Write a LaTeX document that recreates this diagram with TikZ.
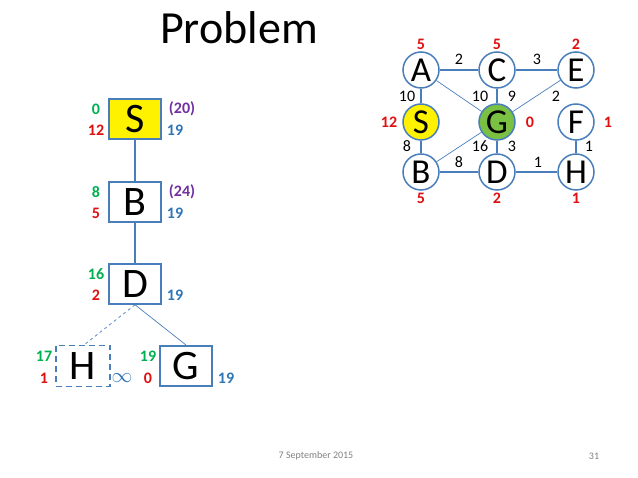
\documentclass[tikz,border=0pt]{standalone}
\usepackage{fontspec}
\setmainfont{Carlito}
\definecolor{ln}{HTML}{4A7EBB}
\definecolor{cg}{HTML}{00B050}
\definecolor{cr}{HTML}{E01010}
\definecolor{cb}{HTML}{2E75B6}
\definecolor{cp}{HTML}{7030A0}
\definecolor{gf}{HTML}{7AC043}
\begin{document}
\begin{tikzpicture}[x=1pt,y=-1pt,
  tbox/.style={draw=ln,line width=1.5pt,minimum width=52pt,minimum height=40pt,font=\fontsize{42}{42}\selectfont},
  gn/.style={circle,draw=ln,line width=1.5pt,minimum size=36pt,inner sep=0pt,font=\fontsize{35}{35}\selectfont},
  ed/.style={draw=ln,line width=1.5pt},
  thin/.style={draw=ln,line width=0.7pt},
  gl/.style={font=\bfseries\fontsize{16}{16}\selectfont,text=cg},
  rl/.style={font=\bfseries\fontsize{16}{16}\selectfont,text=cr},
  bl/.style={font=\bfseries\fontsize{16}{16}\selectfont,text=cb},
  pl/.style={font=\bfseries\fontsize{16}{16}\selectfont,text=cp},
  el/.style={font=\fontsize{16}{16}\selectfont}]
\useasboundingbox (0,0) rectangle (638,478);
\node (title) at (239,28) {\fontsize{46}{46}\selectfont Problem};
\node[text=gray] (date) at (316,456) {\fontsize{10}{10}\selectfont 7 September 2015};
\node[text=gray] (pg) at (594,456) {\fontsize{10}{10}\selectfont 31};
% tree
\node[tbox,fill=yellow] (tS) at (135,119) {S};
\node[tbox] (tB) at (135,202) {B};
\node[tbox] (tD) at (135,284) {D};
\node[tbox,dash pattern=on 6pt off 4pt,minimum width=54pt,minimum height=41pt] (tH) at (83,366) {H};
\node[tbox] (tG) at (186,366) {G};
\draw[ed] (tS) -- (tB); \draw[ed] (tB) -- (tD);
\draw[thin,dashed] (tD.south) -- (84,345);
\draw[thin] (tD.south) -- (186,345);
\node[gl] (a1) at (96,109) {0}; \node[rl] (a2) at (96,130) {12};
\node[pl] (a3) at (182,109) {(20)}; \node[bl] (a4) at (175,130) {19};
\node[gl] (b1) at (96,192) {8}; \node[rl] (b2) at (96,213) {5};
\node[pl] (b3) at (182,192) {(24)}; \node[bl] (b4) at (175,213) {19};
\node[gl] (d1) at (96,274) {16}; \node[rl] (d2) at (96,295) {2};
\node[bl] (d4) at (175,295) {19};
\node[gl] (h1) at (44,356) {17}; \node[rl] (h2) at (44,378) {1};
\node[bl,font=\fontsize{20}{20}\selectfont] (h4) at (122,378) {$\infty$};
\node[gl] (g1) at (148,356) {19}; \node[rl] (g2) at (148,378) {0};
\node[bl] (g4) at (226,378) {19};
% graph
\node[gn] (A) at (421,70) {A};
\node[gn] (C) at (497,70) {C};
\node[gn] (E) at (576,70) {E};
\node[gn,fill=yellow] (S) at (421,122) {S};
\node[gn,fill=gf] (G) at (497,122) {G};
\node[gn] (F) at (576,122) {F};
\node[gn] (B) at (421,172) {B};
\node[gn] (D) at (497,172) {D};
\node[gn] (H) at (576,172) {H};
\draw[ed] (A)--(C); \draw[ed] (C)--(E); \draw[ed] (A)--(S); \draw[ed] (S)--(B);
\draw[ed] (C)--(G); \draw[ed] (G)--(D); \draw[ed] (B)--(D); \draw[ed] (D)--(H); \draw[ed] (F)--(H);
\draw[thin] (A)--(G); \draw[thin] (E)--(G); \draw[thin] (B)--(G);
\node[el] (e1) at (459,59) {2}; \node[el] (e2) at (537,59) {3};
\node[el] (e3) at (407,96) {10}; \node[el] (e4) at (480,96) {10};
\node[el] (e5) at (512,96) {9}; \node[el] (e6) at (556,96) {2};
\node[el] (e7) at (407,146) {8}; \node[el] (e8) at (480,146) {16};
\node[el] (e9) at (512,146) {3}; \node[el] (e10) at (459,162) {8};
\node[el] (e11) at (538,162) {1}; \node[el] (e12) at (589,146) {1};
\node[rl] (r1) at (421,44) {5}; \node[rl] (r2) at (497,44) {5}; \node[rl] (r3) at (576,44) {2};
\node[rl] (r4) at (389,122) {12}; \node[rl] (r5) at (530,122) {0}; \node[rl] (r6) at (608,122) {1};
\node[rl] (r7) at (421,198) {5}; \node[rl] (r8) at (497,198) {2}; \node[rl] (r9) at (576,198) {1};
\end{tikzpicture}
\end{document}
